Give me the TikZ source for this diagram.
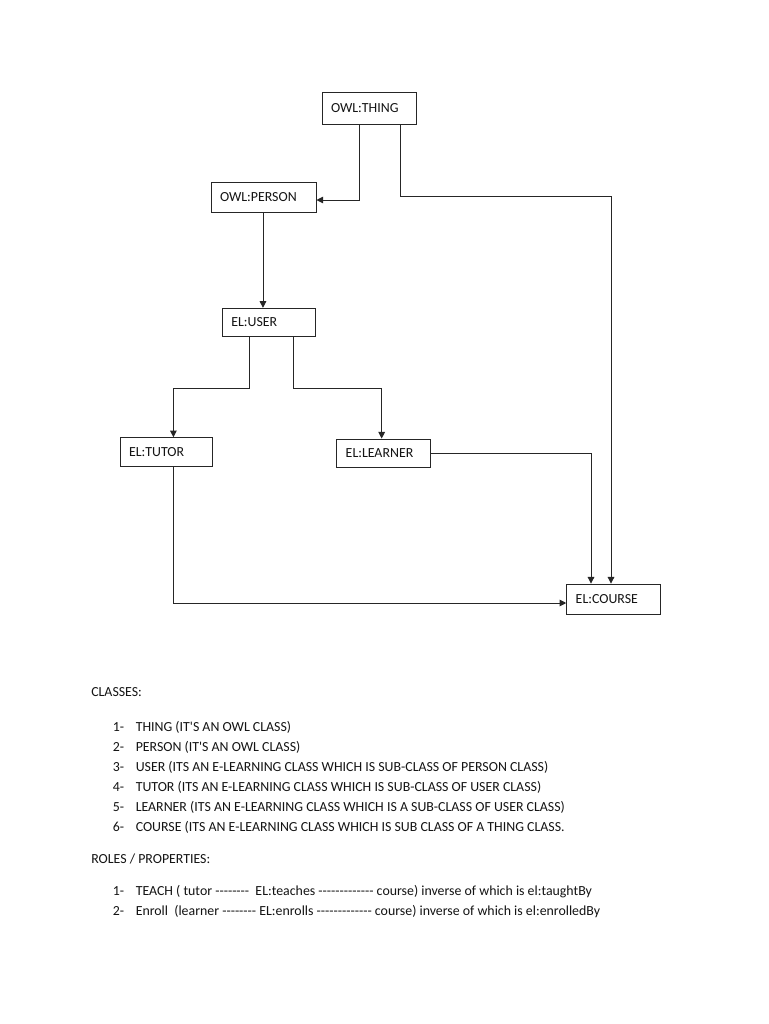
\documentclass[tikz,border=0pt]{standalone}
\usepackage{fontspec}
\newfontfamily\carfont{Carlito}
\usetikzlibrary{arrows.meta}
\newcommand\dashrun[1]{\foreach\k in {1,...,#1}{-\kern0pt}}
\begin{document}
\begin{tikzpicture}[x=0.75pt,y=-0.75pt,
  every node/.style={font=\carfont\fontsize{10.4}{15}\selectfont, text=black!92},
  box/.style={draw=black!85, line width=0.75pt, align=left, inner xsep=6.75pt, inner ysep=0pt},
  conn/.style={draw=black!85, line width=0.7pt},
  arr/.style={conn, -{Triangle[length=5pt,width=5pt]}},
  txt/.style={anchor=base west, inner sep=0pt}]
\useasboundingbox[fill=white] (0,0) rectangle (768,1024);

% boxes
\node[box, text width=57pt, minimum height=23.25pt] (thing) at (369,108.5) {OWL:THING};
\node[box, text width=65.25pt, minimum height=22.5pt] (person) at (263.5,197) {OWL:PERSON};
\node[box, text width=56.5pt, minimum height=21.3pt] (user) at (269,322.5) {EL:USER};
\node[box, text width=56pt, minimum height=21.75pt] (tutor) at (166.4,452.2) {EL:TUTOR};
\node[box, text width=56.5pt, minimum height=21.5pt] (learner) at (383.4,453.4) {EL:LEARNER};
\node[box, text width=56.5pt, minimum height=22.7pt] (course) at (613.4,599.2) {EL:COURSE};

\coordinate (lvlA) at (0,196);
\coordinate (lvlB) at (0,388.3);

% connectors
\draw[arr] ([xshift=-7.5pt]thing.south) |- ([yshift=-2.25pt]person.east);
\draw[arr] ([xshift=23.25pt]thing.south) -- ([xshift=23.25pt]thing.south |- lvlA) -| ([xshift=-1.8pt]course.north);
\draw[arr] ([xshift=-0.4pt]person.south) -- ([xshift=-0.4pt]person.south |- user.north);
\draw[arr] ([xshift=-15pt]user.south) -- ([xshift=-15pt]user.south |- lvlB) -| ([xshift=5.25pt]tutor.north);
\draw[arr] ([xshift=18.2pt]user.south) -- ([xshift=18.2pt]user.south |- lvlB) -| ([xshift=-1.3pt]learner.north);
\draw[arr] (learner.east) -| ([xshift=-16.8pt]course.north);
\draw[arr] ([xshift=5pt]tutor.south) |- ([yshift=-2.85pt]course.west);

% text
\node[txt] (cls) at (91,696.4) {CLASSES:};
\node[txt] (c1) at (112.5,731) {\makebox[17.25pt][l]{1-}THING (IT'S AN OWL CLASS)};
\node[txt] (c2) at (112.5,751) {\makebox[17.25pt][l]{2-}PERSON (IT'S AN OWL CLASS)};
\node[txt] (c3) at (112.5,771.5) {\makebox[17.25pt][l]{3-}USER (ITS AN E-LEARNING CLASS WHICH IS SUB-CLASS OF PERSON CLASS)};
\node[txt] (c4) at (112.5,791.5) {\makebox[17.25pt][l]{4-}TUTOR (ITS AN E-LEARNING CLASS WHICH IS SUB-CLASS OF USER CLASS)};
\node[txt] (c5) at (112.5,811.5) {\makebox[17.25pt][l]{5-}LEARNER (ITS AN E-LEARNING CLASS WHICH IS A SUB-CLASS OF USER CLASS)};
\node[txt] (c6) at (112.5,831.5) {\makebox[17.25pt][l]{6-}COURSE (ITS AN E-LEARNING CLASS WHICH IS SUB CLASS OF A THING CLASS.};
\node[txt] (roles) at (91,863.4) {ROLES / PROPERTIES:};
\node[txt] (r1) at (112.5,895.5) {\makebox[17.25pt][l]{1-}TEACH ( tutor \dashrun{8}\ \ EL:teaches \dashrun{13} course) inverse of which is el:taughtBy};
\node[txt] (r2) at (112.5,915.5) {\makebox[17.25pt][l]{2-}Enroll\ \ (learner \dashrun{8} EL:enrolls \dashrun{13} course) inverse of which is el:enrolledBy};
\end{tikzpicture}
\end{document}
